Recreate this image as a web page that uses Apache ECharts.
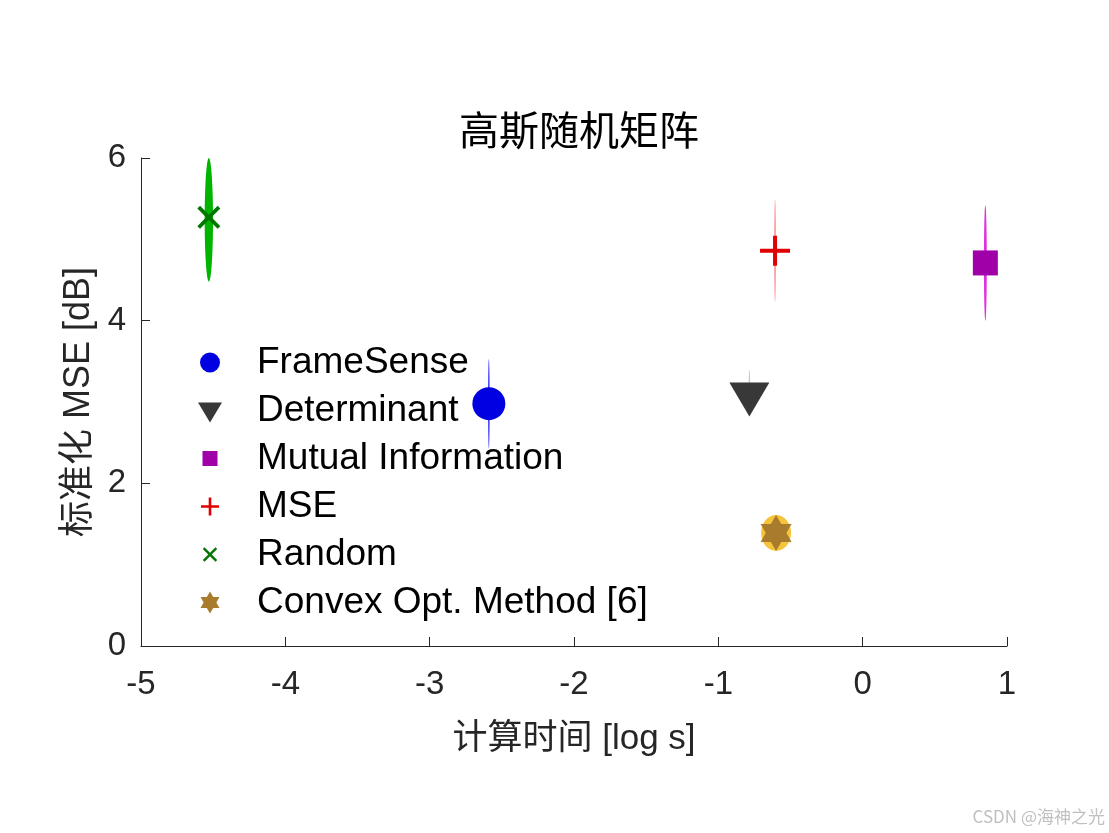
<!DOCTYPE html>
<html><head><meta charset="utf-8">
<script src="https://cdn.jsdelivr.net/npm/echarts@6/dist/echarts.min.js"></script>
<style>html,body{margin:0;padding:0;background:#fff}#c{width:1109px;height:833px}</style>
</head><body><div id="c"></div>
<script>
// ---- data ----
const methods = ['FrameSense', 'Determinant', 'Mutual Information', 'MSE', 'Random', 'Convex Opt. Method [6]'];
const timeLog = [-2.59, -0.785, 0.85, -0.607, -4.53, -0.60];      // 计算时间 [log s]
const nmse    = [2.98, 3.03, 4.71, 4.86, 5.27, 1.39];              // 标准化 MSE [dB]
// spread (ellipse) around each method: centre y, half width (log s), half height (dB)
const spreadCy = [2.98, 3.20, 4.71, 4.86, 5.24, 1.39];
const spreadRx = [0.006, 0.005, 0.010, 0.007, 0.029, 0.104];
const spreadRy = [0.55, 0.20, 0.71, 0.63, 0.76, 0.22];
const xTicks = [-5, -4, -3, -2, -1, 0, 1];
const yTicks = [0, 2, 4, 6];

// ---- styles ----
const markerColors = ['#0000e0', '#383838', '#a000a8', '#e00000', '#007800', '#a87c2c'];
const spreadColors = ['#4040ff', '#c8c8c8', '#e030e0', '#ffa0a0', '#00b400', '#f6c43a'];
const TRI = 'path://M0,0 L40,0 L20,34 Z';
const PLUS = 'path://M-1,-7.5 L1,-7.5 L1,-1 L7.5,-1 L7.5,1 L1,1 L1,7.5 L-1,7.5 L-1,1 L-7.5,1 L-7.5,-1 L-1,-1 Z';
const XSYM = 'path://M4.596,-6.01 L6.01,-4.596 L1.414,0 L6.01,4.596 L4.596,6.01 L0,1.414 L-4.596,6.01 L-6.01,4.596 L-1.414,0 L-6.01,-4.596 L-4.596,-6.01 L0,-1.414 Z';
const HEX = 'path://M0,-100 L28.9,-50 L86.6,-50 L57.7,0 L86.6,50 L28.9,50 L0,100 L-28.9,50 L-86.6,50 L-57.7,0 L-86.6,-50 L-28.9,-50 Z';
const symbols = ['circle', TRI, 'rect', PLUS, XSYM, HEX];
const symbolSizes = [33, [40, 34], 25, [30, 30], [23, 23], [31, 36]];
// legend icons drawn inside a 24x24 box (extra moveTo points pad the box)
const PAD = 'M-12,-12 M12,12 ';
const legendIcons = [
  'path://' + PAD + 'M-10,0 A10,10 0 1,0 10,0 A10,10 0 1,0 -10,0 Z',
  'path://' + PAD + 'M-12,-8 L12,-8 L0,12 Z',
  'path://' + PAD + 'M-7.5,-7.5 L7.5,-7.5 L7.5,7.5 L-7.5,7.5 Z',
  'path://' + PAD + 'M-1.3,-9 L1.3,-9 L1.3,-1.3 L9,-1.3 L9,1.3 L1.3,1.3 L1.3,9 L-1.3,9 L-1.3,1.3 L-9,1.3 L-9,-1.3 L-1.3,-1.3 Z',
  'path://' + PAD + 'M5.5,-7.2 L7.2,-5.5 L1.7,0 L7.2,5.5 L5.5,7.2 L0,1.7 L-5.5,7.2 L-7.2,5.5 L-1.7,0 L-7.2,-5.5 L-5.5,-7.2 L0,-1.7 Z',
  'path://' + PAD + 'M0,-11 L3.2,-5.5 L9.5,-5.5 L6.35,0 L9.5,5.5 L3.2,5.5 L0,11 L-3.2,5.5 L-9.5,5.5 L-6.35,0 L-9.5,-5.5 L-3.2,-5.5 Z'
];

const FONT = "'Liberation Sans', Arial, 'Noto Sans CJK SC', sans-serif";
const chart = echarts.init(document.getElementById('c'), null, {renderer: 'canvas'});

const series = [];
methods.forEach((m, i) => {
  series.push({
    name: m + ' spread',
    type: 'custom',
    coordinateSystem: 'cartesian2d',
    clip: true,
    silent: true,
    z: 1,
    data: [[timeLog[i], spreadCy[i], spreadRx[i], spreadRy[i]]],
    renderItem: function (params, api) {
      const c = api.coord([api.value(0), api.value(1)]);
      const s = api.size([api.value(2), api.value(3)]);
      return {type: 'ellipse', shape: {cx: c[0], cy: c[1], rx: s[0], ry: s[1]},
              style: {fill: spreadColors[i]}};
    }
  });
});
methods.forEach((m, i) => {
  series.push({
    name: m,
    type: 'scatter',
    z: 3,
    symbol: symbols[i],
    symbolSize: symbolSizes[i],
    itemStyle: {color: markerColors[i], opacity: 1},
    data: [[timeLog[i], nmse[i]]]
  });
});

chart.setOption({
  animation: false,
  backgroundColor: '#fff',
  textStyle: {fontFamily: FONT},
  title: {
    text: '高斯随机矩阵', left: 574, top: 105, textAlign: 'center',
    textStyle: {fontFamily: "'Noto Sans CJK SC', sans-serif", fontSize: 40, fontWeight: 'normal', color: '#000'}
  },
  grid: {left: 141, top: 158, right: 102, bottom: 187, containLabel: false},
  legend: {
    orient: 'vertical', left: 193, top: 339,
    itemWidth: 24, itemHeight: 24, itemGap: 11,
    textStyle: {fontFamily: FONT, fontSize: 37, color: '#000', padding: [0, 0, 0, 30]},
    data: methods.map((m, i) => ({name: m, icon: legendIcons[i], itemStyle: {color: markerColors[i]}})),
    selectedMode: false
  },
  xAxis: {
    type: 'value', min: xTicks[0], max: xTicks[xTicks.length - 1], interval: 1,
    name: '计算时间 [log s]', nameLocation: 'middle', nameGap: 76,
    nameTextStyle: {fontFamily: FONT, fontSize: 35, color: '#262626'},
    axisLine: {show: true, onZero: false, lineStyle: {color: '#262626', width: 1}},
    axisTick: {show: true, inside: true, length: 9, lineStyle: {color: '#262626'}},
    axisLabel: {fontSize: 33, color: '#262626', margin: 22, fontFamily: FONT},
    splitLine: {show: false}
  },
  yAxis: {
    type: 'value', min: yTicks[0], max: yTicks[yTicks.length - 1], interval: 2,
    name: '标准化 MSE [dB]', nameLocation: 'middle', nameGap: 43, nameRotate: 90,
    nameTextStyle: {fontFamily: FONT, fontSize: 36, color: '#262626'},
    axisLine: {show: true, onZero: false, lineStyle: {color: '#262626', width: 1}},
    axisTick: {show: true, inside: true, length: 9, lineStyle: {color: '#262626'}},
    axisLabel: {fontSize: 33, color: '#262626', margin: 15, fontFamily: FONT},
    splitLine: {show: false}
  },
  graphic: [{
    type: 'text', right: 4, bottom: 8,
    style: {text: 'CSDN @海神之光', fontSize: 17, fill: '#c0c0c0', fontFamily: "'Noto Sans CJK SC', sans-serif"}
  }],
  series: series
});
</script></body></html>
